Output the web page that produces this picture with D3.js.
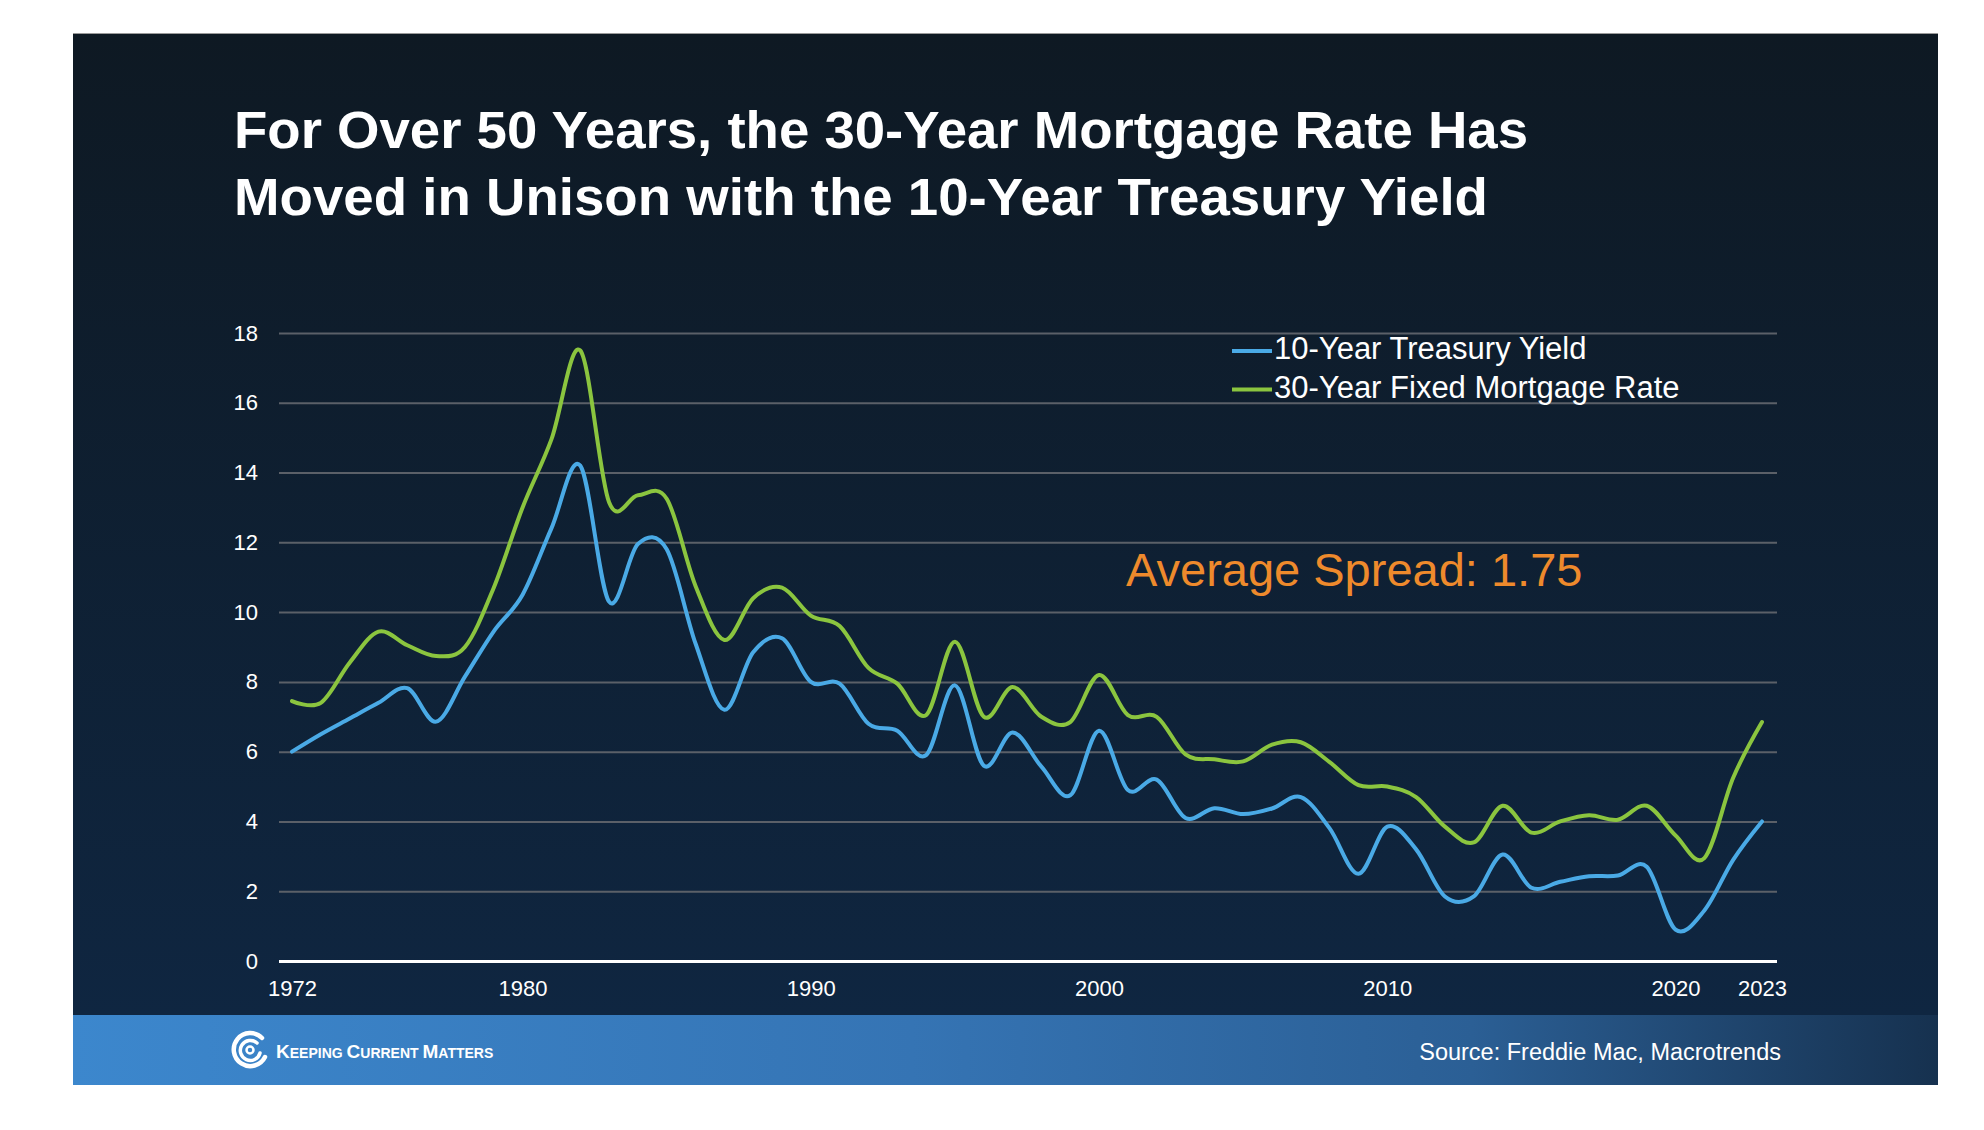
<!DOCTYPE html>
<html>
<head>
<meta charset="utf-8">
<script src="https://cdn.jsdelivr.net/npm/d3@7"></script>
<style>
  body { margin: 0; background: #fff; }
  svg { display: block; }
  text { font-family: "Liberation Sans", Arial, sans-serif; }
</style>
</head>
<body>
<script>
// yearly values
var years = d3.range(1972, 2024);

var treasury = [6.0, 6.5, 6.95, 7.4, 7.82, 6.86, 8.15, 9.45, 10.5, 12.4,
  14.2, 10.3, 11.95, 11.8, 9.1, 7.2, 8.85, 9.25, 8.0, 7.95,
  6.8, 6.6, 5.9, 7.9, 5.6, 6.55, 5.57, 4.75, 6.6, 4.9,
  5.2, 4.1, 4.38, 4.21, 4.37, 4.7, 3.8, 2.5, 3.85, 3.2,
  1.85, 1.85, 3.05, 2.1, 2.27, 2.43, 2.45, 2.7, 0.9, 1.45,
  2.9, 4.0];

var mortgage = [7.45, 7.4, 8.55, 9.44, 9.05, 8.74, 9.0, 10.7, 13.0, 14.95,
  17.5, 13.15, 13.35, 13.25, 10.75, 9.2, 10.4, 10.7, 9.9, 9.6,
  8.4, 7.95, 7.05, 9.15, 7.0, 7.85, 7.0, 6.85, 8.2, 7.05,
  7.0, 5.92, 5.78, 5.72, 6.2, 6.27, 5.7, 5.04, 5.0, 4.7,
  3.85, 3.4, 4.45, 3.68, 4.0, 4.18, 4.05, 4.45, 3.6, 2.95,
  5.25, 6.85];

var xTicks = [1972, 1980, 1990, 2000, 2010, 2020, 2023];
var yTicks = [0, 2, 4, 6, 8, 10, 12, 14, 16, 18];

var seriesNames = ["10-Year Treasury Yield", "30-Year Fixed Mortgage Rate"];
var seriesColors = ["#4aaae6", "#8bc53f"];

var width = 1984, height = 1130;

var svg = d3.select("body").append("svg")
  .attr("width", width)
  .attr("height", height);

var defs = svg.append("defs");

var bg = defs.append("linearGradient")
  .attr("id", "bg")
  .attr("x1", 0).attr("y1", 0).attr("x2", 0).attr("y2", 1);
bg.append("stop").attr("offset", 0).attr("stop-color", "#0e1923");
bg.append("stop").attr("offset", 1).attr("stop-color", "#0f2641");

var foot = defs.append("linearGradient")
  .attr("id", "foot")
  .attr("x1", 0).attr("y1", 0).attr("x2", 1).attr("y2", 0);
foot.append("stop").attr("offset", 0).attr("stop-color", "#3c87cd");
foot.append("stop").attr("offset", 0.45).attr("stop-color", "#3574b4");
foot.append("stop").attr("offset", 0.75).attr("stop-color", "#2b5f95");
foot.append("stop").attr("offset", 1).attr("stop-color", "#16314f");

// slide panel
svg.append("rect")
  .attr("x", 73).attr("y", 34)
  .attr("width", 1865).attr("height", 981)
  .attr("fill", "url(#bg)");
svg.append("line")
  .attr("x1", 73).attr("x2", 1938)
  .attr("y1", 33.5).attr("y2", 33.5)
  .attr("stroke", "#9a9a9a")
  .attr("stroke-width", 1);

svg.append("rect")
  .attr("x", 73).attr("y", 1015)
  .attr("width", 1865).attr("height", 70)
  .attr("fill", "url(#foot)");

// title
var title = svg.append("text")
  .attr("fill", "#fff")
  .attr("font-weight", "bold")
  .attr("font-size", 51);
title.append("tspan")
  .attr("x", 234).attr("y", 148)
  .attr("textLength", 1294)
  .attr("lengthAdjust", "spacingAndGlyphs")
  .text("For Over 50 Years, the 30-Year Mortgage Rate Has");
title.append("tspan")
  .attr("x", 234).attr("y", 215)
  .attr("textLength", 1254)
  .attr("lengthAdjust", "spacingAndGlyphs")
  .text("Moved in Unison with the 10-Year Treasury Yield");

// scales
var x = d3.scaleLinear()
  .domain([1972, 2023])
  .range([292, 1762]);

var y = d3.scaleLinear()
  .domain([0, 18])
  .range([961, 333]);

var gridLeft = 279, gridRight = 1777;

// y axis with gridlines
var yAxis = svg.append("g")
  .attr("transform", "translate(" + gridLeft + ",0)")
  .call(d3.axisLeft(y)
    .tickValues(yTicks)
    .tickSizeInner(-(gridRight - gridLeft))
    .tickSizeOuter(0)
    .tickPadding(21));
yAxis.select(".domain").remove();
yAxis.selectAll(".tick line")
  .attr("stroke", function(d) { return d === 0 ? "#ffffff" : "#5b6068"; })
  .attr("stroke-width", function(d) { return d === 0 ? 3 : 2; });
yAxis.selectAll(".tick text")
  .attr("fill", "#fff")
  .attr("font-size", 22)
  .attr("font-family", "Liberation Sans, Arial, sans-serif");

// x axis labels
var xAxis = svg.append("g")
  .attr("transform", "translate(0," + y(0) + ")")
  .call(d3.axisBottom(x)
    .tickValues(xTicks)
    .tickFormat(d3.format("d"))
    .tickSize(0)
    .tickPadding(19));
xAxis.select(".domain").remove();
xAxis.selectAll(".tick text")
  .attr("fill", "#fff")
  .attr("font-size", 22)
  .attr("font-family", "Liberation Sans, Arial, sans-serif");

// lines
var line = d3.line()
  .x(function(d) { return x(d[0]); })
  .y(function(d) { return y(d[1]); })
  .curve(d3.curveCardinal.tension(0));

[mortgage, treasury].forEach(function(vals) {
  var color = vals === treasury ? seriesColors[0] : seriesColors[1];
  svg.append("path")
    .datum(years.map(function(yr, k) { return [yr, vals[k]]; }))
    .attr("d", line)
    .attr("fill", "none")
    .attr("stroke", color)
    .attr("stroke-width", 4)
    .attr("stroke-linejoin", "round")
    .attr("stroke-linecap", "round");
});

// legend
var legend = svg.append("g")
  .attr("transform", "translate(1232,351)");
seriesNames.forEach(function(name, i) {
  var row = legend.append("g")
    .attr("transform", "translate(0," + (i * 38.5) + ")");
  row.append("line")
    .attr("x1", 0).attr("x2", 40)
    .attr("stroke", seriesColors[i])
    .attr("stroke-width", 4);
  row.append("text")
    .attr("x", 42).attr("y", 8)
    .attr("fill", "#fff")
    .attr("font-size", 31)
    .text(name);
});

svg.append("text")
  .attr("x", 1126).attr("y", 586)
  .attr("fill", "#ee8a2c")
  .attr("font-size", 47)
  .text("Average Spread: 1.75");

// footer
svg.append("text")
  .attr("x", 1781).attr("y", 1060)
  .attr("text-anchor", "end")
  .attr("fill", "#fff")
  .attr("font-size", 23.5)
  .text("Source: Freddie Mac, Macrotrends");

var logo = svg.append("g")
  .attr("transform", "translate(250,1050)")
  .attr("fill", "none")
  .attr("stroke", "#fff")
  .attr("stroke-linecap", "round");
logo.append("path")
  .attr("d", "M 12 -12 A 16.5 16.5 0 1 0 15 7")
  .attr("stroke-width", 4.5);
logo.append("path")
  .attr("d", "M 7 -7 A 10 10 0 1 0 10 3")
  .attr("stroke-width", 3.5);
logo.append("circle")
  .attr("r", 3.5)
  .attr("stroke-width", 2.5);

var brand = svg.append("text")
  .attr("x", 276).attr("y", 1058)
  .attr("fill", "#fff")
  .attr("font-family", "Lato, 'Open Sans', sans-serif")
  .attr("font-weight", "bold")
  .attr("font-size", 14);
[["K", "EEPING "], ["C", "URRENT "], ["M", "ATTERS"]].forEach(function(w) {
  brand.append("tspan").attr("font-size", 19).text(w[0]);
  brand.append("tspan").text(w[1]);
});
</script>
</body>
</html>
